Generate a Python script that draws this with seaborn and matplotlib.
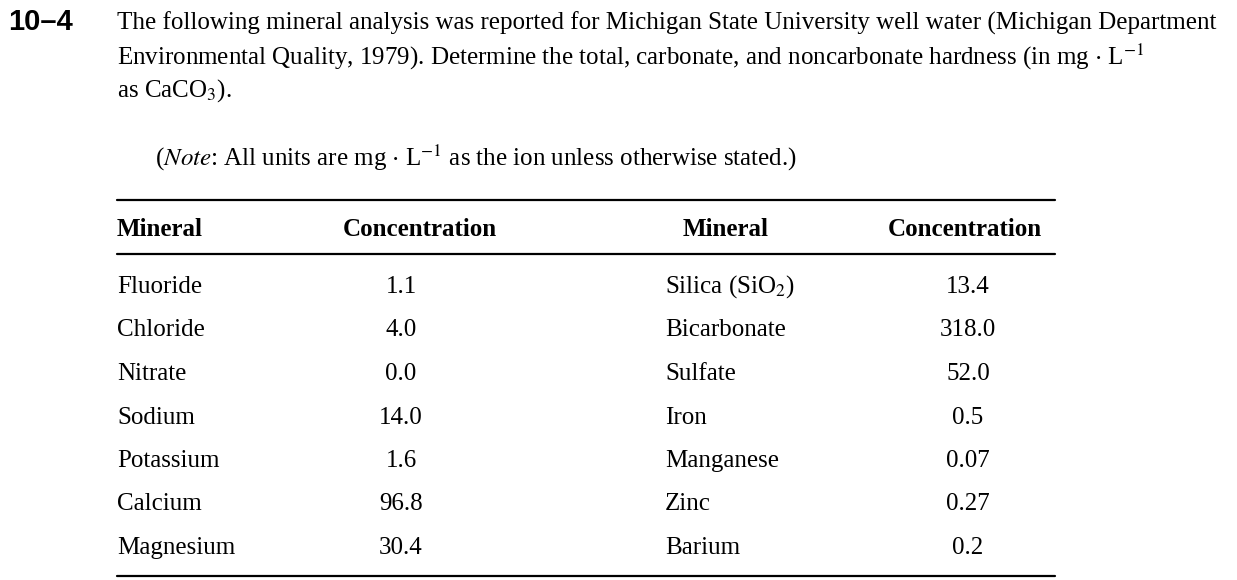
import matplotlib.pyplot as plt
import seaborn as sns

sns.set_theme(style="white")
plt.rcParams["font.family"] = ["Liberation Serif", "DejaVu Serif"]
plt.rcParams["mathtext.fontset"] = "stix"
plt.rcParams["text.color"] = "black"

W, H = 1237, 580

left_minerals = ["Fluoride", "Chloride", "Nitrate", "Sodium", "Potassium", "Calcium", "Magnesium"]
left_values = ["1.1", "4.0", "0.0", "14.0", "1.6", "96.8", "30.4"]
right_minerals = [r"Silica (SiO$_2$)", "Bicarbonate", "Sulfate", "Iron", "Manganese", "Zinc", "Barium"]
right_values = ["13.4", "318.0", "52.0", "0.5", "0.07", "0.27", "0.2"]
headers = ["Mineral", "Concentration", "Mineral", "Concentration"]

problem_lines = [
    "The following mineral analysis was reported for Michigan State University well water (Michigan Department",
    r"Environmental Quality, 1979). Determine the total, carbonate, and noncarbonate hardness (in mg $\cdot$ L$^{-1}$",
    r"as CaCO$_3$).",
]
note = r"($\it{Note}$: All units are mg $\cdot$ L$^{-1}$ as the ion unless otherwise stated.)"

fig = plt.figure(figsize=(W / 100, H / 100), dpi=100)
fig.patch.set_facecolor("white")
ax = fig.add_axes([0, 0, 1, 1])
ax.set_xlim(0, W)
ax.set_ylim(H, 0)
ax.axis("off")

FS = 18
ax.text(8, 22, "10–4", fontsize=21, fontweight="bold", family="Liberation Sans", va="center")
for i, line in enumerate(problem_lines):
    ax.text(117, 23 + i * 34, line, fontsize=FS, va="center")
ax.text(155, 158, note, fontsize=FS, va="center")

# table rules
ax.plot([117, 1055], [200, 200], color="black", lw=1.6)
ax.plot([117, 1055], [254, 254], color="black", lw=1.6)
ax.plot([117, 1055], [576, 576], color="black", lw=1.6)

hx = [117, 420, 683, 965]
ha = ["left", "center", "left", "center"]
for x, h, a in zip(hx, headers, ha):
    ax.text(x, 229, h, fontsize=FS, fontweight="bold", ha=a, va="center")

for i in range(len(left_minerals)):
    y = 287 + i * 43.5
    ax.text(117, y, left_minerals[i], fontsize=FS, va="center")
    ax.text(401, y, left_values[i], fontsize=FS, ha="center", va="center")
    ax.text(665, y, right_minerals[i], fontsize=FS, va="center")
    ax.text(968, y, right_values[i], fontsize=FS, ha="center", va="center")

fig.savefig("out.png", dpi=100, facecolor="white")
